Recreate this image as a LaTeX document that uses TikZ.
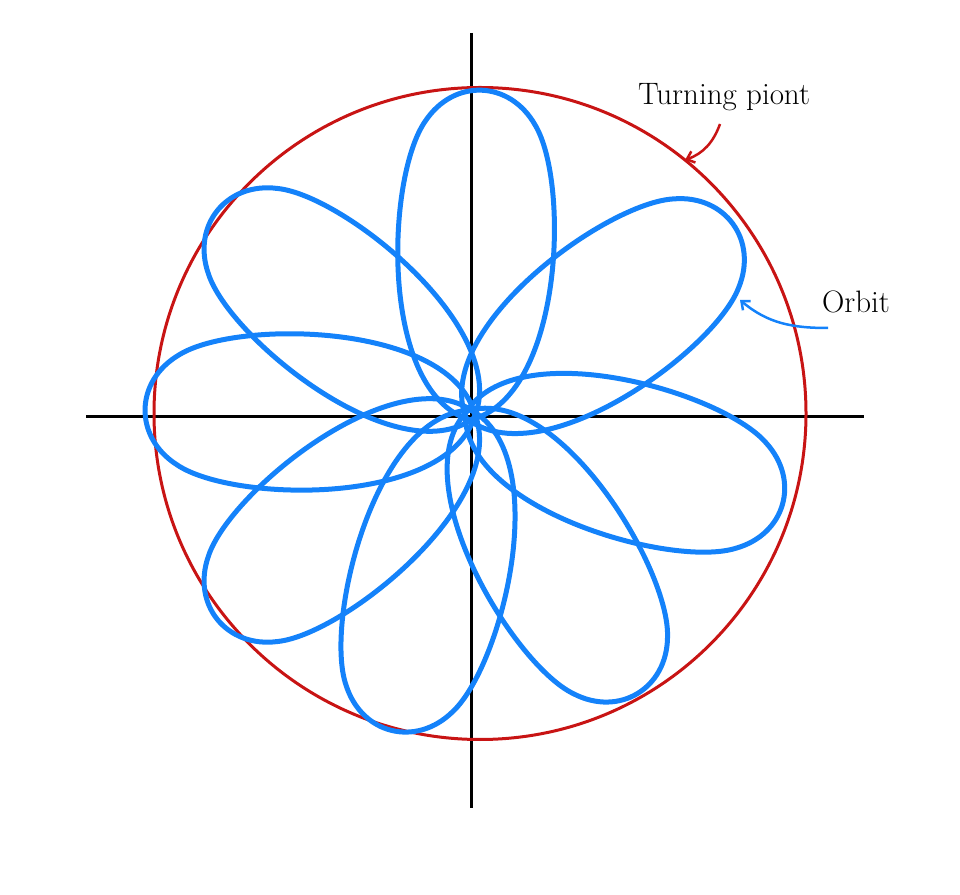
\documentclass[tikz,border=0pt]{standalone}
\usetikzlibrary{arrows.meta}
\definecolor{orbitblue}{RGB}{20,130,250}
\definecolor{tpred}{RGB}{200,20,20}
\tikzset{
  petal/.style={draw=orbitblue, line width=5pt, line join=round},
  axis/.style={draw=black, line width=3pt},
  lbl/.style={font=\fontsize{31}{36}\selectfont, inner sep=0pt},
  callout/.style={line width=2.5pt, -{Straight Barb[length=7pt,width=12pt]}}
}
\begin{document}
\begin{tikzpicture}[x=1pt,y=1pt]
\useasboundingbox (0,0) rectangle (960,894);
\draw[axis] (86,477) -- (864,477);
\draw[axis] (471,861) -- (471,86);
\draw[tpred, line width=3pt] (480,480.5) circle (326);
\foreach \a in {88,36,-16,-59,-104,-141,179,141}{
  \draw[petal, shift={(470,479)}, rotate=\a]
    (-5,0) .. controls (20,-92) and (235,-92) .. (292,-55)
    .. controls (336,-28) and (336,28) .. (292,55)
    .. controls (235,92) and (20,92) .. (-5,0) -- cycle;
}
\node[lbl] (tp) at (724,797) {Turning piont};
\node[lbl] (ob) at (856,592) {Orbit};
\coordinate (tpend) at (685,734);
\coordinate (obend) at (740,594);
\draw[callout, tpred] (720,770) to[out=-110, in=20] (tpend);
\draw[callout, orbitblue] (828,566) to[out=180, in=-40] (obend);
\end{tikzpicture}
\end{document}
